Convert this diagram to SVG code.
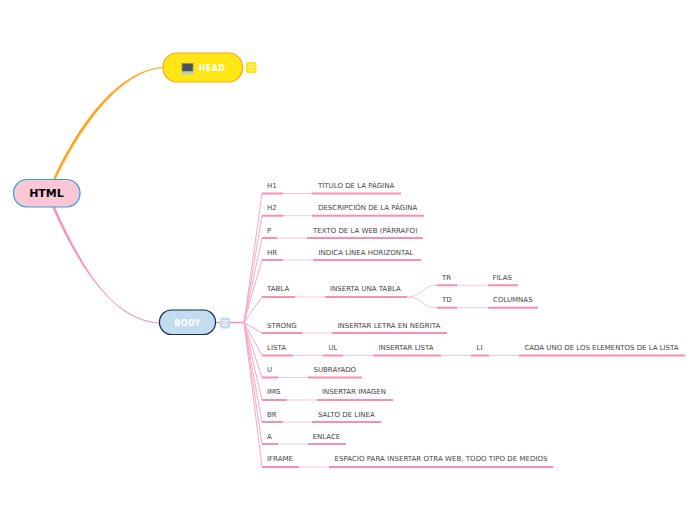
<svg xmlns="http://www.w3.org/2000/svg" width="696" height="520" viewBox="0 0 696 520">
<style>
text{font-family:"DejaVu Sans",sans-serif}
.t{font-size:7px;fill:#444}
.n{font-size:8px;font-weight:bold;fill:#fff;text-anchor:middle;letter-spacing:.4px}
.u{stroke:#f78fb3;stroke-width:2;fill:none}
.l{stroke:#fbc6d6;stroke-width:1;fill:none}
.b{stroke:#f9a8c4;stroke-width:1;fill:none}
.tg{stroke-width:.7;fill:none}
</style>
<rect width="696" height="520" fill="#fff"/>
<g id="connectors">
<path d="M53 180C78 125 118 70 163 67.500C120 71 81 126 55 180Z" fill="#ffa31a" stroke="#ffa31a" stroke-width=".6"/>
<path d="M52.500 207C77 262 110 319 159 323C111 321 80 263 54.500 207Z" fill="#f78fb3" stroke="#f78fb3" stroke-width=".6"/>
<path d="M216 322.500H244" stroke="#f78fb3" stroke-width="1.500" fill="none"/>
<g class="b">
<path d="M244 322.500L262 193.500"/><path d="M244 322.500L262 215.700"/><path d="M244 322.500L262 238"/><path d="M244 322.500L262 260"/><path d="M244 322.500L262 297"/><path d="M244 322.500L262 333"/><path d="M244 322.500L262 355.500"/><path d="M244 322.500L262 377.500"/><path d="M244 322.500L262 400"/><path d="M244 322.500L262 422"/><path d="M244 322.500L262 444"/><path d="M244 322.500L262 467"/>
</g>
<g class="l">
<path d="M283 193.500H312"/><path d="M283 215.700H312"/><path d="M277 238H307"/><path d="M283 260H313"/><path d="M295 297H325"/><path d="M457 285.300H488"/><path d="M457 307.700H488"/><path d="M302 333H332"/><path d="M293 355.500H323"/><path d="M343 355.500H373"/><path d="M441 355.500H471"/><path d="M489 355.500H519"/><path d="M278 377.500H308"/><path d="M287 400H317"/><path d="M283 422H312"/><path d="M278 444H308"/><path d="M299 467H329"/>
<path d="M407 297C422 297 422 285.300 437 285.300"/><path d="M407 297C422 297 422 307.700 437 307.700"/>
</g>
</g>
<g class="u">
<path d="M262 193.500H283M312 193.500H401"/><path d="M262 215.700H283M312 215.700H424"/><path d="M262 238H277M307 238H423"/><path d="M262 260H283M313 260H421"/><path d="M262 297H295M325 297H407"/><path d="M437 285.300H457M488 285.300H518"/><path d="M437 307.700H457M488 307.700H538"/><path d="M262 333H302M332 333H447"/><path d="M262 355.500H293M323 355.500H343M373 355.500H441M471 355.500H489M519 355.500H685"/><path d="M262 377.500H278M308 377.500H362"/><path d="M262 400H287M317 400H393"/><path d="M262 422H283M312 422H381"/><path d="M262 444H278M308 444H346"/><path d="M262 467H299M329 467H553"/>
</g>
<g id="node-html"><rect x="13.500" y="179.500" width="66.500" height="27.500" rx="13.500" fill="#fbc6d6" stroke="#3a9ae0" stroke-width="1.200"/><text x="46.500" y="197" font-size="11" font-weight="bold" fill="#000" text-anchor="middle">HTML</text></g>
<g id="node-head"><rect x="163" y="53" width="79.500" height="29" rx="14" fill="#ffe614" stroke="#ffa31a" stroke-width="1.200"/>
<rect x="182" y="63.500" width="11" height="8" fill="#4a5560" stroke="#8a8f70" stroke-width=".8"/><rect x="181" y="71.500" width="13" height="3" fill="#c4ccb0"/>
<text class="n" x="212" y="71">HEAD</text>
<rect x="246" y="62" width="10.500" height="11" rx="2" fill="#ffe614"/><path class="tg" stroke="#fff" d="M248 65H254.500M248 67.500H254.500M248 70H254.500"/></g>
<g id="node-body"><rect x="159.500" y="310" width="56" height="24.500" rx="12" fill="#c3dcf0" stroke="#0d2a5c" stroke-width="1.200"/><text class="n" x="187.500" y="326">BODY</text>
<rect x="220" y="317.500" width="10" height="11" rx="2" fill="#c3dcf0"/><path class="tg" stroke="#fff" d="M222 320.500H228M222 323H228M222 325.500H228"/></g>
<g id="labels">
<text class="t" x="267" y="188">H1</text><text class="t" x="318" y="188">TÍTULO DE LA PÁGINA</text>
<text class="t" x="267" y="210">H2</text><text class="t" x="318" y="210">DESCRIPCIÓN DE LA PÁGINA</text>
<text class="t" x="267" y="233">P</text><text class="t" x="313" y="233">TEXTO DE LA WEB (PÁRRAFO)</text>
<text class="t" x="267" y="255">HR</text><text class="t" x="318.500" y="255">INDICA LÍNEA HORIZONTAL</text>
<text class="t" x="267" y="291">TABLA</text><text class="t" x="330" y="291">INSERTA UNA TABLA</text>
<text class="t" x="442" y="280">TR</text><text class="t" x="492.500" y="280">FILAS</text>
<text class="t" x="442" y="302">TD</text><text class="t" x="493" y="302">COLUMNAS</text>
<text class="t" x="267" y="328">STRONG</text><text class="t" x="337.500" y="328">INSERTAR LETRA EN NEGRITA</text>
<text class="t" x="267" y="350">LISTA</text><text class="t" x="328.500" y="350">UL</text><text class="t" x="378.500" y="350">INSERTAR LISTA</text><text class="t" x="476.500" y="350">LI</text><text class="t" x="524.500" y="350" textLength="154">CADA UNO DE LOS ELEMENTOS DE LA LISTA</text>
<text class="t" x="267" y="372">U</text><text class="t" x="313.500" y="372">SUBRAYADO</text>
<text class="t" x="267" y="394">IMG</text><text class="t" x="322" y="394">INSERTAR IMAGEN</text>
<text class="t" x="267" y="417">BR</text><text class="t" x="318" y="417">SALTO DE LINEA</text>
<text class="t" x="267" y="439">A</text><text class="t" x="312.500" y="439">ENLACE</text>
<text class="t" x="267" y="461">IFRAME</text><text class="t" x="334.500" y="461" textLength="213">ESPACIO PARA INSERTAR OTRA WEB, TODO TIPO DE MEDIOS</text>
</g>
</svg>
